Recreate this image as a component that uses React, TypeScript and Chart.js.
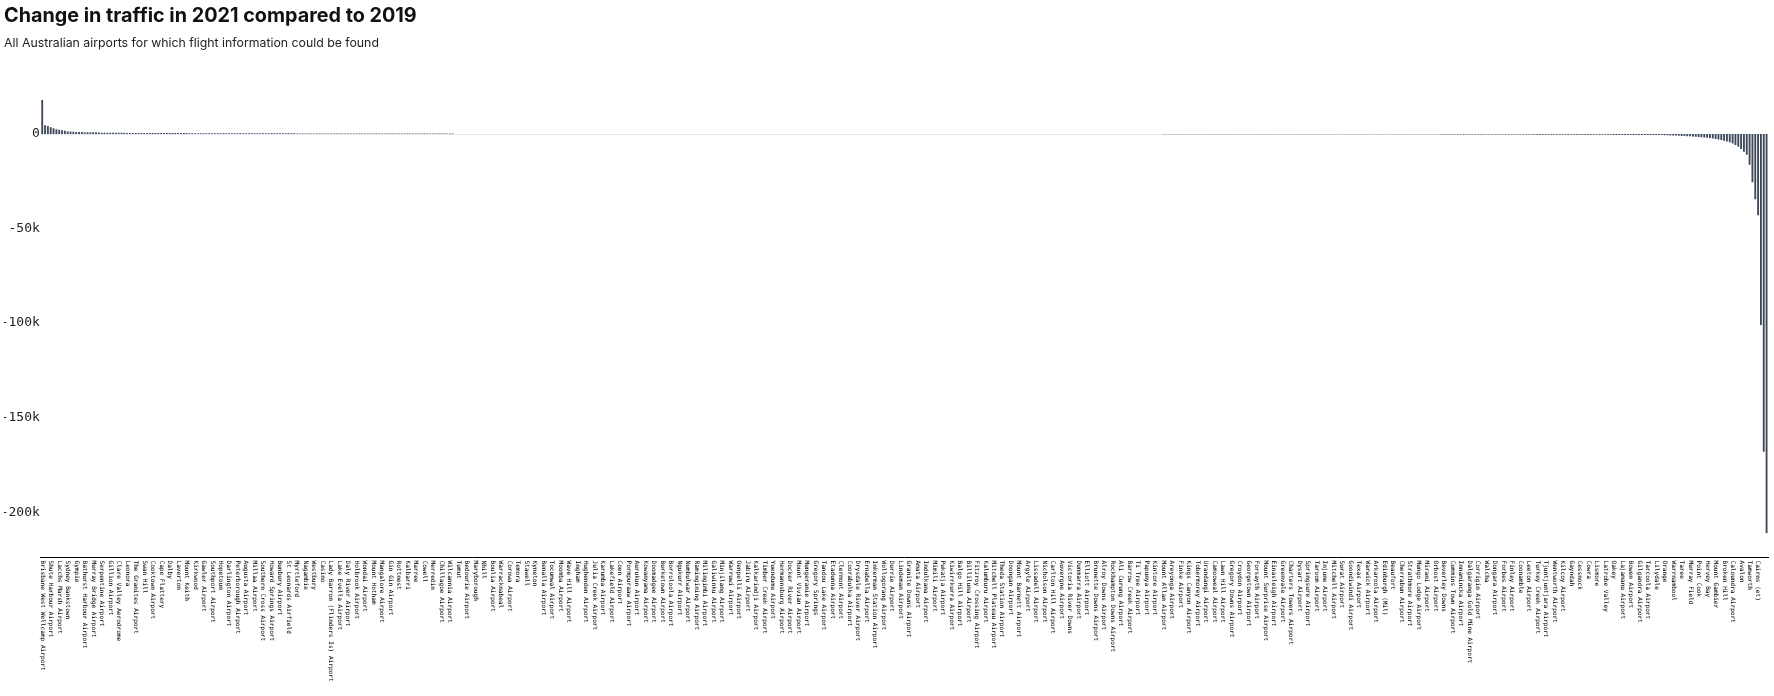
import React, { useEffect, useRef } from 'react';
import { Chart, registerables } from 'chart.js';

Chart.register(...registerables);

const titleText = 'Change in traffic in 2021 compared to 2019';
const subtitleText = 'All Australian airports for which flight information could be found';

// Every third airport is labelled on the axis (the others are skipped)
const airports = [
  'Brisbane West Wellcamp Airport', 'Shute Harbour Airport', 'Lacchs Marsh Airport', 'Sydney Bankstown', 'Gympie',
  'Bathurst Harbour Airport', 'Murray Bridge Airport', 'Serpentine Airport', 'Gillion Airport', 'Clare Valley Aerodrome',
  'Leonora', 'The Granites Airport', 'Swan Hill', 'Cooktown Airport', 'Cape Flattery',
  'Dalby', 'Laverton', 'Mount Keith', 'Kirkwood', 'Gawler Airport',
  'Southport Airport', 'Hopetoun', 'Darlington Airport', 'Peterborough Airport', 'Augusta Airport',
  'Millaa Airport', 'Southern Cross Airport', 'Howard Springs Airport', 'Bunbury Airport', 'St Leonards Airfield',
  'Myrtleford', 'Nagambie', 'Westbury', 'Casino', 'Lady Barron (Flinders Is) Airport',
  'Lake Evella Airport', 'Daly River Airport', 'Holbrook Airport', 'Wondai Airport', 'Mount Hotham',
  'Mangalore Airport', 'Gin Gin Airport', 'Rottnest', 'Kalbarri', 'Marree',
  'Cowell', 'Merredin', 'Chillagoe Airport', 'Wilcannia Airport', 'Tumut',
  'Bedourie Airport', 'Maryborough', 'Nhill', 'Boulia Airport', 'Warracknabeal',
  'Corowa Airport', 'Temora', 'Stawell', 'Kyneton', 'Benalla Airport',
  'Tocumwal Airport', 'Moomba Airport', 'Wave Hill Airport', 'Ingham', 'Hughenden Airport',
  'Julia Creek Airport', 'Karumba Airport', 'Lakefield Airport', 'Coen Airport', 'Pormpuraaw Airport',
  'Aurukun Airport', 'Kowanyama Airport', 'Doomadgee Airport', 'Burketown Airport', 'Borroloola Airport',
  'Ngukurr Airport', 'Numbulwar Airport', 'Ramingining Airport', 'Milingimbi Airport', 'Galiwinku Airport',
  'Minjilang Airport', 'Warruwi Airport', 'Oenpelli Airport', 'Jabiru Airport', 'Kalkarindji Airport',
  'Timber Creek Airport', 'Yuendumu Airport', 'Hermannsburg Airport', 'Docker River Airport', 'Mount Vivian Airport',
  'Mungeranie Airport', 'Gregory Springs', 'Tandou Lake Airport', 'Etadunna Airport', 'Clermont Airport',
  'Coorabulka Airport', 'Drysdale River Airport', 'Ernabella Airport', 'Inkerman Station Airport', 'Wollogorang Airport',
  'Durrie Airport', 'Lindeman Airport', 'Granite Downs Airport', 'Amata Airport', 'Indulkana Airport',
  'Mimili Airport', 'Pukatja Airport', 'Kiwirrkurra Airport', 'Balgo Hill Airport', 'Billiluna Airport',
  'Fitzroy Crossing Airport', 'Kalumburu Airport', 'Mitchell Plateau Airport', 'Theda Station Airport', 'Doongan Airport',
  'Mount Barnett Airport', 'Argyle Airport', 'Lissadell Airport', 'Nicholson Airport', 'Carlton Hill Airport',
  'Auvergne Airport', 'Victoria River Downs', 'Dunmarra Airport', 'Elliott Airport', 'Brunette Downs Airport',
  'Alroy Downs Airport', 'Rockhampton Downs Airport', 'Ali Curung Airport', 'Barrow Creek Airport', 'Ti Tree Airport',
  'Papunya Airport', 'Kintore Airport', 'Mount Allan Airport', 'Areyonga Airport', 'Finke Airport',
  'Kings Canyon Airport', 'Tobermorey Airport', 'Urandangi Airport', 'Camooweal Airport', 'Lawn Hill Airport',
  'Gregory Downs Airport', 'Croydon Airport', 'Georgetown Airport', 'Forsayth Airport', 'Mount Surprise Airport',
  'Einasleigh Airport', 'Greenvale Airport', 'Charters Towers Airport', 'Dysart Airport', 'Springsure Airport',
  'Taroom Airport', 'Injune Airport', 'Mitchell Airport', 'Surat Airport', 'Goondiwindi Airport',
  'Texas Airport', 'Warwick Airport', 'Arkaroola Airport', 'Edinburgh (Mil)', 'Beaufort',
  'Cherrabun Airport', 'Strathmore Airport', 'Mungo Lodge Airport', 'Mirani Airport', 'Orbost Airport',
  'Beverley Downs', 'Cummins Town Airport', 'Innamincka Airport', 'Dalgaranga Gold Mine Airport', 'Corrigin Airport',
  'Walcha', 'Dongara Airport', 'Forbes Airport', 'Finley Airport', 'Coonamble',
  'Leeton Airport', 'Turkey Creek Airport', 'Tjuntjuntjara Airport', 'Wentworth Airport', 'Kilcoy Airport',
  'Gayndah', 'Cessnock', 'Cowra', 'Lismore', 'Latrobe Valley',
  'Oakey', 'Lajamanu Airport', 'Bowen Airport', 'Gilgandra Airport', 'Tarcoola Airport',
  'Lilydale', 'Orange', 'Warrnambool', 'Taree', 'Murray Field',
  'Point Cook', 'Hervey Bay', 'Mount Gambier', 'Broken Hill', 'Caloundra Airport',
  'Avalon', 'Tamworth', 'Cairns (et)',
];

// change in number of flights, sorted from largest gain to largest loss
const changeHead = [
  18000, 4700, 4300, 3600, 3100, 2600, 2300, 2000, 1700, 1400,
  1300, 1200, 1150, 1100, 1050, 1000, 980, 950, 920, 900,
  870,
];

const changeGain = [
  730, 712, 698, 684, 671, 660, 652, 640, 633, 621,
  614, 606, 598, 590, 585, 577, 570, 566, 558, 551,
  547, 540, 536, 529, 524, 518, 513, 508, 502, 498,
  493, 488, 484, 479, 475, 470, 466, 462, 458, 453,
  450, 446, 442, 438, 435, 431, 428, 424, 421, 417,
  414, 411, 407, 404, 401, 398, 395, 391, 388, 386,
  383, 380, 377, 374, 371, 369, 366, 363, 360, 358,
  355, 352, 350, 347, 345, 342, 340, 337, 335, 332,
  330, 328, 325, 323, 321, 318, 316, 314, 312, 309,
  307, 305, 303, 301, 298, 296, 294, 292, 290, 288,
  286, 284, 282, 280, 278, 276, 274, 272, 270, 268,
  266, 264, 262, 260, 258, 256, 254, 252, 250, 248,
  246, 243, 240, 236, 230,
];

const changeFlat = [
  88, 74, 66, 60, 55, 51, 48, 45, 42, 40,
  38, 36, 34, 33, 31, 30, 29, 27, 26, 25,
  24, 23, 22, 21, 20, 19, 19, 18, 17, 16,
  16, 15, 14, 14, 13, 12, 12, 11, 11, 10,
  10, 9, 9, 8, 8, 8, 7, 7, 7, 6,
  6, 6, 5, 5, 5, 5, 4, 4, 4, 4,
  3, 3, 3, 3, 3, 2, 2, 2, 2, 2,
  2, 2, 1, 1, 1, 1, 1, 1, 1, 1,
  1, 1, 1, 0, 0, 0, 0, 0, 0, 0,
  0, 0, 0, 0, 0, 0, 0, 0, 0, 0,
  0, 0, 0, 0, 0, 0, 0, 0, 0, 0,
  0, 0, 0, 0, 0, 0, 0, 0, 0, 0,
  0, 0, 0, 0, 0, 0, 0, 0, 0, 0,
  0, 0, 0, 0, 0, 0, 0, 0, 0, 0,
  0, 0, 0, 0, 0, 0, 0, 0, 0, 0,
  0, 0, 0, 0, 0, 0, 0, 0, -1, -1,
  -1, -1, -1, -1, -1, -1, -1, -2, -2, -2,
  -2, -2, -2, -2, -3, -3, -3, -3, -3, -4,
  -4, -4, -4, -5, -5, -5, -5, -6, -6, -6,
  -7, -7, -7, -8, -8, -8, -9, -9, -9, -10,
  -10, -11, -11, -12, -12, -12, -13, -13, -14, -14,
  -15, -15, -16, -16, -17, -17, -18, -18, -19, -19,
  -20, -20, -21, -21, -22, -23, -23, -24, -24, -25,
  -26, -26, -27, -27, -28, -29, -29, -30, -31, -31,
  -32, -33, -33, -34, -35, -35, -36, -37, -38, -38,
  -39, -40, -41, -41, -42, -43, -44, -44, -45, -46,
  -47, -48, -48, -49, -50, -51, -52, -53, -53, -54,
  -55, -56, -57, -58, -59, -60, -60, -61, -62, -63,
  -64, -65, -66, -67, -68, -69, -70, -71, -72, -73,
  -74, -75, -76, -77, -78, -79, -80, -81, -82, -84,
  -85, -86, -87, -88, -90, -91, -92, -93, -95, -96,
  -97, -99, -100, -101, -103, -104, -106, -107, -109, -110,
  -112, -114, -115, -117, -119, -120, -122, -124, -126, -128,
  -130, -132, -134, -136, -138, -140, -142, -145, -147, -149,
  -152, -154, -157, -159, -162, -165, -167, -170, -173, -176,
  -179, -182, -185, -188, -191, -194, -198, -201, -205, -208,
  -212, -215, -219, -223, -227, -231, -235, -239, -243, -247,
  -252, -256, -261, -265, -270, -275, -280, -285, -290, -295,
  -300, -305, -311, -316, -322, -327, -333, -339, -345, -351,
  -357, -363, -369, -375, -381, -387, -393, -399, -405, -410,
  -414, -417, -420, -423, -426, -428, -430, -432, -434, -436,
  -438, -440, -442, -444, -446, -448, -450, -452, -454, -456,
  -458, -460, -462, -464,
];

const changeLoss = [
  -480, -520, -560, -610, -660, -710, -770, -830, -900, -970,
  -1050, -1130, -1220, -1320, -1430, -1550, -1680, -1820, -1980, -2150,
  -2350, -2600, -2850, -3150, -3500, -3900, -4400, -5000, -5800, -6700,
  -7900, -9400, -11000, -16200, -25500, -34500, -43000, -101000, -168000, -211000,
];

const yTickValues = [0, -50000, -100000, -150000, -200000];
const yMin = -223700;
const yMax = 18000;
const LABEL_EVERY = 3;

export default function App() {
  const canvasRef = useRef<HTMLCanvasElement>(null);

  useEffect(() => {
    document.body.style.margin = '0';
    const values = [...changeHead, ...changeGain, ...changeFlat, ...changeLoss];
    const categories = values.map((_, i) =>
      i % LABEL_EVERY === 0 ? (airports[i / LABEL_EVERY] ?? '') : ''
    );

    const zeroLine = {
      id: 'zeroLine',
      beforeDatasetsDraw(chart: any) {
        const { ctx, chartArea } = chart;
        const y = Math.round(chart.scales.y.getPixelForValue(0)) + 0.5;
        ctx.save();
        ctx.strokeStyle = '#e2e8f0';
        ctx.lineWidth = 1;
        ctx.beginPath();
        ctx.moveTo(chartArea.left, y);
        ctx.lineTo(chartArea.right, y);
        ctx.stroke();
        ctx.restore();
      },
    };

    const downLabels = {
      id: 'downLabels',
      afterDraw(chart: any) {
        const xs = chart.scales.x;
        const ctx = chart.ctx;
        const top = chart.chartArea.bottom + 3.5;
        ctx.save();
        ctx.font = '6.1px "DejaVu Sans Mono", monospace';
        ctx.fillStyle = '#000';
        ctx.textAlign = 'left';
        ctx.textBaseline = 'middle';
        categories.forEach((lab: string, i: number) => {
          if (!lab) return;
          const x = xs.getPixelForValue(i);
          ctx.save();
          ctx.translate(x, top);
          ctx.rotate(Math.PI / 2);
          ctx.fillText(lab, 0, 0);
          ctx.restore();
        });
        ctx.restore();
      },
    };

    const chart = new Chart(canvasRef.current as HTMLCanvasElement, {
      type: 'bar',
      data: {
        labels: categories,
        datasets: [
          {
            data: values,
            backgroundColor: '#3e4859',
            barPercentage: 0.65,
            categoryPercentage: 1,
          },
        ],
      },
      options: {
        animation: false,
        responsive: false,
        layout: { padding: { left: 4, right: 6, top: 0, bottom: 0 } },
        plugins: {
          legend: { display: false },
          tooltip: { enabled: false },
          title: {
            display: true,
            text: titleText,
            align: 'start',
            color: '#111',
            font: { family: 'Inter', size: 19.8, weight: 'bold' },
            padding: { top: 4, bottom: 6 },
          },
          subtitle: {
            display: true,
            text: subtitleText,
            align: 'start',
            color: '#222',
            font: { family: 'Inter', size: 12.3, weight: 'normal' },
            padding: { top: 2, bottom: 49.5 },
          },
        },
        scales: {
          x: {
            grid: { display: false },
            border: { display: true, color: '#000', width: 1 },
            ticks: { display: false },
            afterFit: (s: any) => {
              s.height = 139;
            },
          },
          y: {
            min: yMin,
            max: yMax,
            afterBuildTicks: (s: any) => {
              s.ticks = yTickValues.map((v) => ({ value: v }));
            },
            afterFit: (s: any) => {
              s.width = 36.8;
            },
            ticks: {
              color: '#222',
              padding: 1,
              font: { family: 'DejaVu Sans Mono', size: 13 },
              callback: (v: any) => (Number(v) === 0 ? '0' : `${Number(v) / 1000}k`),
            },
            grid: { display: false, drawTicks: false },
            border: { display: false },
          },
        },
      },
      plugins: [zeroLine, downLabels],
    });

    return () => chart.destroy();
  }, []);

  return (
    <div style={{ width: 1774, height: 696 }}>
      <canvas ref={canvasRef} width={1774} height={696} />
    </div>
  );
}
